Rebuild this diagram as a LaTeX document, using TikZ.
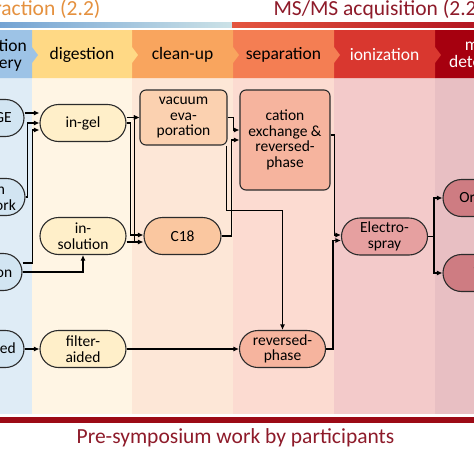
\documentclass[tikz,border=0pt]{standalone}
\usepackage{fontspec}
\setmainfont{Carlito}
\usetikzlibrary{shapes.misc,arrows.meta}
\definecolor{hdblue}{HTML}{9DC3E6}
\definecolor{bgblue}{HTML}{DFECF6}
\definecolor{ndblue}{HTML}{D2E5F2}
\definecolor{hddig}{HTML}{FFD985}
\definecolor{bgdig}{HTML}{FFF5E4}
\definecolor{nddig}{HTML}{FFEFC9}
\definecolor{hdcln}{HTML}{F9A55E}
\definecolor{bgcln}{HTML}{FDE7D7}
\definecolor{ndcln}{HTML}{FBD1B0}
\definecolor{ndclnb}{HTML}{FAC7A0}
\definecolor{hdsep}{HTML}{F47E53}
\definecolor{bgsep}{HTML}{FCDBD1}
\definecolor{ndsep}{HTML}{F6B49E}
\definecolor{hdion}{HTML}{D9372F}
\definecolor{bgion}{HTML}{F3CACA}
\definecolor{ndion}{HTML}{E6A0A0}
\definecolor{hddet}{HTML}{A6000F}
\definecolor{bgdet}{HTML}{E8BFC3}
\definecolor{nddet}{HTML}{CE7C82}
\definecolor{ttlorange}{HTML}{E5913F}
\definecolor{ttlred}{HTML}{8E1B2A}
\definecolor{barblueA}{HTML}{72A2D3}
\definecolor{barblueB}{HTML}{CCE2E7}
\definecolor{barredA}{HTML}{E4553F}
\definecolor{barredB}{HTML}{B21521}
\definecolor{footbar}{HTML}{9C0A16}
\definecolor{edge}{HTML}{2B2B2B}
\begin{document}
\begin{tikzpicture}[x=1pt, y=-1pt, >={Latex[length=5.5pt,width=5pt]},
    pill/.style={rounded rectangle, draw=edge, line width=1.1pt, minimum width=88pt,
        minimum height=37pt, inner sep=1pt, align=center, font=\fontsize{15.5}{15.5}\selectfont},
    box/.style={rectangle, rounded corners=6pt, draw=edge, line width=1.1pt,
        inner sep=1pt, align=center, font=\fontsize{15.5}{15.5}\selectfont},
    hdtext/.style={align=center, font=\fontsize{17.5}{17}\selectfont},
    title/.style={font=\fontsize{21.5}{24}\selectfont},
    link/.style={->, line width=1.5pt}]
\clip (0,0) rectangle (474,474);
\fill[white] (0,0) rectangle (474,474);
\foreach \xa/\xb/\hc/\bc in {435/540/hddet/bgdet, 334/435/hdion/bgion, 233/334/hdsep/bgsep,
    132/233/hdcln/bgcln, 32/132/hddig/bgdig, -70/32/hdblue/bgblue}
{
    \fill[\bc] (\xa,78) rectangle (\xb,414);
    \fill[\hc] (\xa,30) -- (\xb,30) -- (\xb,47) -- (\xb+6,55) -- (\xb,63) -- (\xb,78) -- (\xa,78) -- cycle;
}
\foreach \x/\txt/\tc [count=\i] in {-9/{extraction\\recovery}/black, 82/digestion/black,
    182.5/clean-up/black, 283.5/separation/black, 384.5/ionization/white, 483/{mass\\detection}/white}
    \node[hdtext, text=\tc] (hd\i) at (\x,55) {\txt};
\shade[left color=barblueA, right color=barblueB] (-5,22) rectangle (232,27);
\shade[left color=barredA, right color=barredB] (232,22) rectangle (480,27);
\fill[footbar] (-5,417) rectangle (480,423);
\node[title, text=ttlorange, anchor=base east] (ttlA) at (104,15) {Protein extraction (2.2)};
\node[title, text=ttlred, anchor=base west] (ttlB) at (270,15) {MS/MS acquisition (2.2)};
\node[title, text=ttlred, anchor=base] (foot) at (235.5,443) {Pre-symposium work by participants};

\node[pill, fill=ndblue] (ge) at (-19,118) {SDS-PAGE};
\node[pill, fill=ndblue] (net) at (-18,197) {protein\\in network};
\node[pill, fill=ndblue] (sol) at (-21,272) {In solution};
\node[pill, fill=ndblue] (lyo) at (-19,349) {Lyophilized};
\node[pill, fill=nddig] (ingel) at (83,123) {in-gel};
\node[pill, fill=nddig] (insol) at (83,236) {in-\\solution};
\node[pill, fill=nddig] (filt) at (83,349) {filter-\\aided};
\node[box, fill=ndcln, minimum width=87pt, minimum height=55pt] (vac) at (183.5,117.5) {vacuum\\eva-\\poration};
\node[pill, fill=ndclnb, minimum width=79pt] (c18) at (182.5,236) {C18};
\node[box, fill=ndsep, minimum width=90pt, minimum height=100pt] (cat) at (285,140) {cation\\exchange \&\\reversed-\\phase};
\node[pill, fill=ndsep] (rev) at (282.5,349) {reversed-\\phase};
\node[pill, fill=ndion] (es) at (384.5,236.5) {Electro-\\spray};
\node[pill, fill=nddet] (orbi) at (486,198) {Orbitrap};
\node[pill, fill=nddet] (tof) at (486,273) {TOF};

\draw[link] ([yshift=5pt]ge.east) -- ([yshift=5pt]ge.east -| ingel.west);
\draw[link] (net.east) -- ++(2,0) |- (ingel.west);
\draw[link] ([yshift=9pt]sol.east) -- ++(10,0) |- ([yshift=-7pt]ingel.west);
\draw[link] (sol.east) -| (insol.south);
\draw[link] (lyo.east) -- (filt.west);
\draw[link] (vac.west -| ingel.east) -- (vac.west);
\draw[link] (ingel.east) -- ++(4,0) |- ([yshift=1pt]c18.west);
\draw[link] ([yshift=-6pt]insol.east) -- ([yshift=-6pt]c18.west);
\draw[link] ([yshift=-6pt]insol.east) -- ++(8,0) |- (vac.west);
\draw[link] (vac.east) -- ++(6,0) |- ([yshift=10pt]cat.west);
\draw[link] (c18.east) -- ++(10,0) |- (cat.west);
\draw[link] ([xshift=-1pt]vac.south east) -- ++(0,65) -| (rev.north);
\draw[link] (filt.east) -- (rev.west);
\draw[link] ([yshift=5pt]cat.east) -- ++(4,0) |- ([yshift=1.5pt]es.west);
\draw[link] (rev.east) -- ++(7,0) |- ([yshift=-4pt]es.west);
\draw[link] (es.east) -- ++(6,0) |- (orbi.west);
\draw[link] (es.east) -- ++(6,0) |- (tof.west);
\end{tikzpicture}
\end{document}
